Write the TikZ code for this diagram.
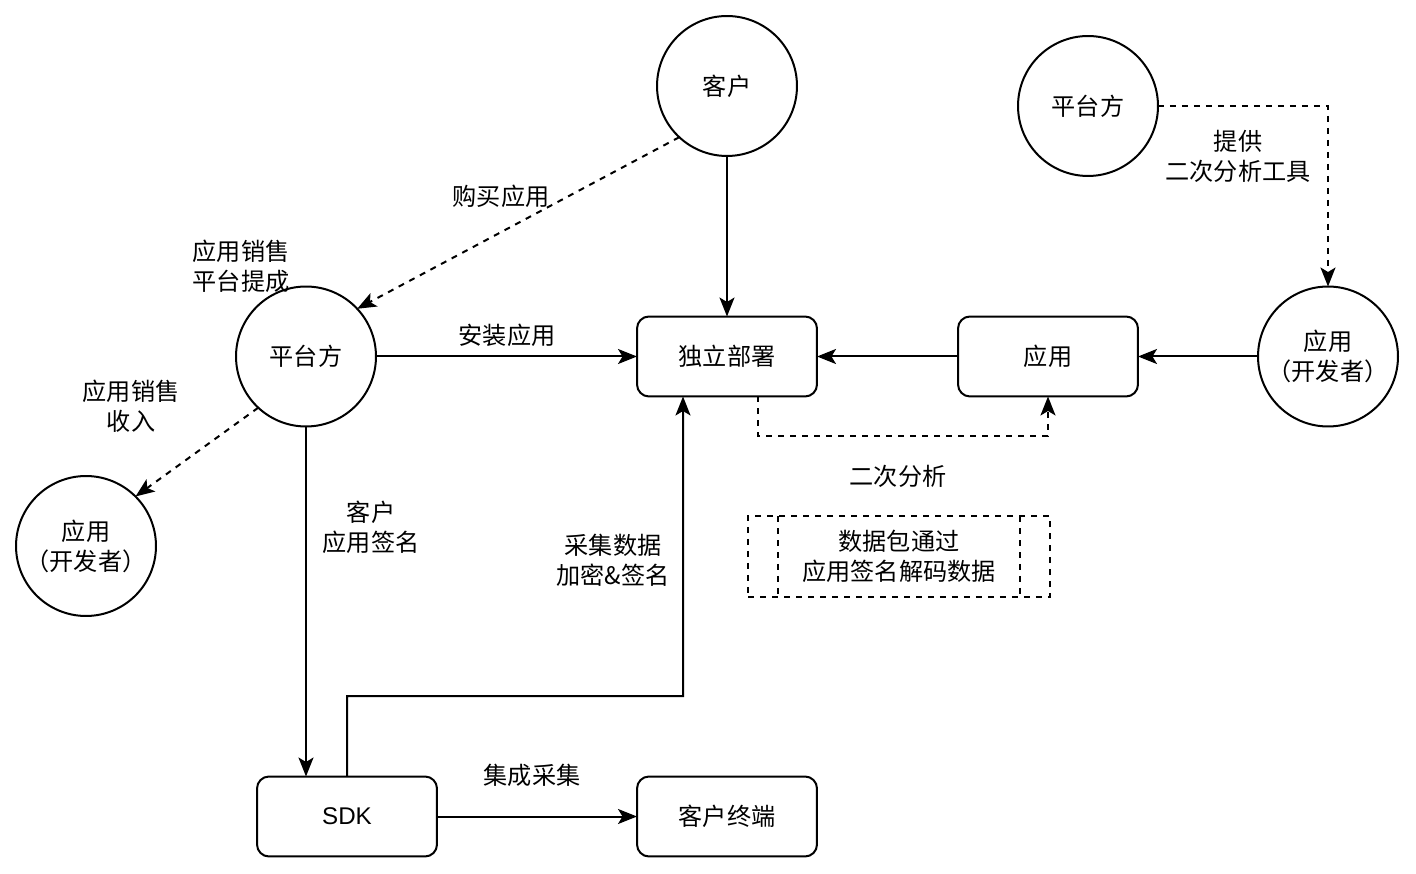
\documentclass[tikz,border=0pt]{standalone}
\usepackage{fontspec}
\setmainfont{Noto Sans CJK SC}
\newfontfamily\latinfont{Liberation Sans}
\usetikzlibrary{arrows.meta}
\tikzset{
	every node/.style={font=\fontsize{13.75}{17}\selectfont, align=center, inner sep=0pt, outer sep=0pt},
	role/.style={draw, circle, minimum size=2.8cm},
	stepbox/.style={draw, rounded corners=0.24cm, minimum width=3.6cm, minimum height=1.6cm},
	flow/.style={-{Stealth[length=0.38cm, width=0.3cm, inset=0.09cm]}},
	dashline/.style={dash pattern=on 0.12cm off 0.12cm},
}
\begin{document}
\begin{tikzpicture}[x=0.02cm, y=-0.02cm, line width=0.04cm]
	\useasboundingbox (0,0) rectangle (1416,874);
	% circles
	\node [role] (customer) at (727,86) {客户};
	\node [role] (platformtop) at (1088,106) {平台方};
	\node [role] (platform) at (306,356.5) {平台方};
	\node [role] (devright) at (1328,356.5) {应用\\（开发者）};
	\node [role] (devleft) at (86,546) {应用\\（开发者）};
	% boxes
	\node [stepbox] (deploy) at (727,356.5) {独立部署};
	\node [stepbox] (app) at (1048,356.5) {应用};
	\node [stepbox] (sdk) at (347,816.5) {\latinfont SDK};
	\node [stepbox] (terminal) at (727,816.5) {客户终端};
	\node [draw, dashline, minimum width=6.04cm, minimum height=1.62cm] (decode) at (899,556.5) {数据包通过\\应用签名解码数据};
	\draw [dashline] ([xshift=0.6cm]decode.north west) -- ([xshift=0.6cm]decode.south west);
	\draw [dashline] ([xshift=-0.6cm]decode.north east) -- ([xshift=-0.6cm]decode.south east);
	% connectors
	\coordinate (deployin) at ([xshift=-0.88cm]deploy.south);
	\coordinate (deployout) at ([xshift=0.62cm]deploy.south);
	\draw [flow] (customer) -- (deploy);
	\draw [flow, dashline] (customer.227) -- (platform.43);
	\draw [flow] (platform) -- (deploy);
	\draw [flow, dashline] (platform.227) -- (devleft.45);
	\draw [flow] (platform) -- (platform |- sdk.north);
	\draw [flow] (sdk.north) |- (683,696) -- (deployin);
	\draw [flow] (sdk) -- (terminal);
	\draw [flow] (app) -- (deploy);
	\draw [flow] (devright) -- (app);
	\draw [flow, dashline] (deployout) |- (1048,436) -- (app.south);
	\draw [flow, dashline] (platformtop.east) -| (devright.north);
	% labels
	\node (buy) at (501,196) {购买应用};
	\node (commission) at (241,266) {应用销售\\平台提成};
	\node (install) at (507,335) {安装应用};
	\node (income) at (131,406) {应用销售\\收入};
	\node (sign) at (371,527) {客户\\应用签名};
	\node (collect) at (613,560) {采集数据\\加密\&签名};
	\node (integrate) at (532,775) {集成采集};
	\node (analysis) at (898,476) {二次分析};
	\node (tool) at (1238,156) {提供\\二次分析工具};
\end{tikzpicture}
\end{document}
